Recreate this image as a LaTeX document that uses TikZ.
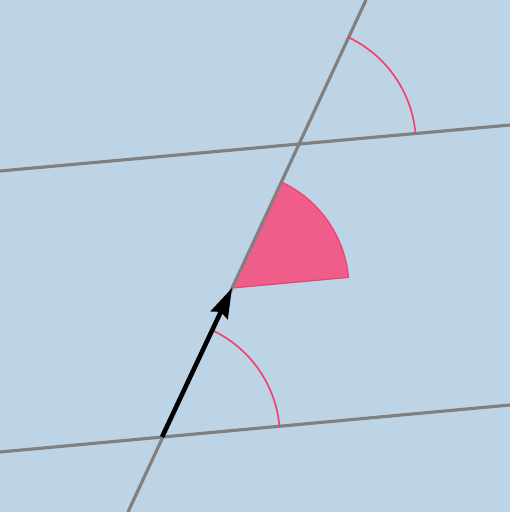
\documentclass[tikz,border=0pt]{standalone}
\usetikzlibrary{calc,arrows.meta}
\definecolor{bgblue}{HTML}{BCD4E6}
\definecolor{linegray}{HTML}{808080}
\definecolor{pinkfill}{HTML}{EF5E8A}
\definecolor{pinkline}{HTML}{F5406E}
\tikzset{
  parline/.style={draw=linegray, line width=1.8pt},
  anglearc/.style={draw=pinkline, line width=0.95pt},
  sector/.style={fill=pinkfill, draw=pinkline, line width=0.7pt},
  vecarrow/.style={draw=black, line width=2.6pt, -{Stealth[length=17pt,width=10.5pt,inset=2pt]}}
}
\begin{document}
\begin{tikzpicture}[x=0.02cm,y=0.02cm]
\fill[bgblue] (0,0) rectangle (510,512);
\useasboundingbox (0,0) rectangle (510,512);
% named points
\coordinate (A) at (162,75);
\coordinate (B) at (298,368);
\coordinate (M) at (232,224);
\coordinate (L1) at (0,60);
\coordinate (L2) at (510,107);
\coordinate (U1) at (0,341);
\coordinate (U2) at (510,387);
\coordinate (T1) at (128,0);
\coordinate (T2) at (366,512);
% filled sector
\path[sector] (M) -- ($(M)+(5.2:2.34cm)$) arc[start angle=5.2, end angle=65.1, radius=2.34cm] -- cycle;
% lines
\draw[parline] (L1) -- (L2);
\draw[parline] (U1) -- (U2);
\draw[parline] (T1) -- (T2);
% angle arcs
\draw[anglearc] ($(A)+(5.2:2.36cm)$) arc[start angle=5.2, end angle=65.1, radius=2.36cm];
\draw[anglearc] ($(B)+(5.2:2.36cm)$) arc[start angle=5.2, end angle=65.1, radius=2.36cm];
% vector
\draw[vecarrow] (A) -- (M);
\end{tikzpicture}
\end{document}
